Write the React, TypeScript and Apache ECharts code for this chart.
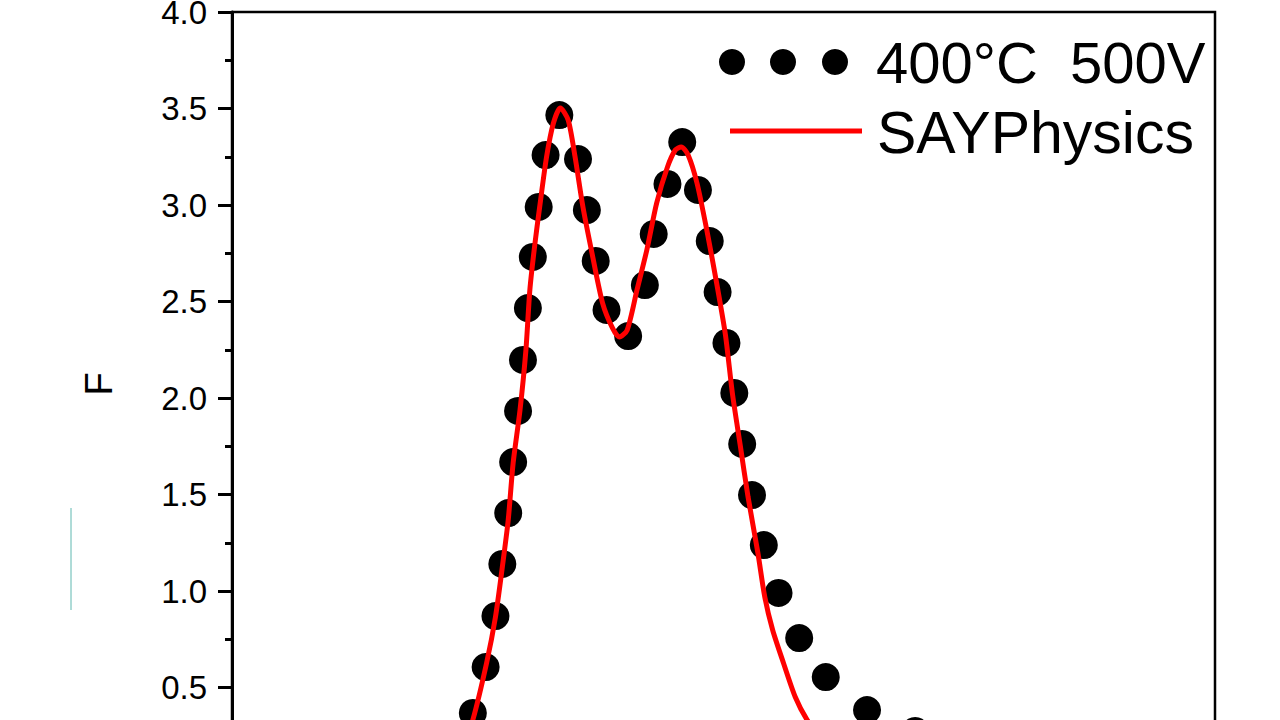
import { useEffect, useRef } from "react";
import * as echarts from "echarts";

// measured points (black dots)
const measuredX = [
  2.45, 2.58, 2.68, 2.75, 2.81, 2.86, 2.91, 2.96, 3.01, 3.06, 3.12, 3.19,
  3.33, 3.52, 3.61, 3.7, 3.81, 4.03, 4.2, 4.29, 4.43, 4.58, 4.74, 4.86,
  4.94, 5.03, 5.11, 5.19, 5.29, 5.41, 5.56, 5.77, 6.04, 6.46, 6.95, 7.48,
];
const measuredF = [
  0.368, 0.606, 0.87, 1.14, 1.404, 1.668, 1.933, 2.197, 2.466, 2.731, 2.99,
  3.259, 3.466, 3.238, 2.974, 2.71, 2.456, 2.321, 2.585, 2.85, 3.109, 3.326,
  3.078, 2.813, 2.549, 2.285, 2.026, 1.762, 1.497, 1.238, 0.99, 0.756, 0.554,
  0.383, 0.275, 0.255,
];

// fitted curve (red line)
const fitX = [
  2.34, 2.45, 2.59, 2.68, 2.75, 2.81, 2.86, 2.93, 2.99, 3.03, 3.08, 3.13,
  3.2, 3.27, 3.34, 3.42, 3.49, 3.57, 3.67, 3.77, 3.87, 3.94, 4.02, 4.12,
  4.22, 4.32, 4.43, 4.51, 4.57, 4.64, 4.73, 4.83, 4.93, 5.02, 5.09, 5.17,
  5.25, 5.35, 5.42, 5.5, 5.61, 5.73, 5.85, 6.03,
];
const fitF = [
  0.176, 0.332, 0.627, 0.865, 1.124, 1.368, 1.663, 1.938, 2.249, 2.56, 2.793,
  2.99, 3.249, 3.425, 3.503, 3.44, 3.249, 2.99, 2.731, 2.492, 2.363, 2.316,
  2.352, 2.56, 2.767, 3.01, 3.197, 3.285, 3.301, 3.259, 3.114, 2.87, 2.596,
  2.326, 2.026, 1.756, 1.487, 1.197, 0.969, 0.798, 0.627, 0.451, 0.332,
  0.202,
];

const legendLabels = ["400°C\u00a0 500V", "SAYPhysics"];
const yAxisName = "F";

const FONT = "'Liberation Sans', Arial, sans-serif";

export default function App() {
  const chartRef = useRef<HTMLDivElement>(null);

  useEffect(() => {
    if (!chartRef.current) return;
    const chart = echarts.init(chartRef.current, undefined, { renderer: "svg" });

    chart.setOption({
      animation: false,
      backgroundColor: "#fff",
      grid: {
        left: 232,
        right: 65,
        top: 12,
        bottom: 16,
        outerBoundsMode: "none",
        containLabel: false,
        show: true,
        borderColor: "#000",
        borderWidth: 2.5,
      },
      xAxis: {
        type: "value",
        min: 0,
        max: 10,
        interval: 1,
        axisLine: { lineStyle: { color: "#000", width: 3 } },
        axisTick: { length: 14, lineStyle: { color: "#000", width: 3 } },
        axisLabel: { show: false },
        splitLine: { show: false },
      },
      yAxis: {
        type: "value",
        min: 0,
        max: 4,
        interval: 0.5,
        axisLine: { show: true, lineStyle: { color: "#000", width: 3 } },
        axisTick: { show: true, length: 14, lineStyle: { color: "#000", width: 3 } },
        minorTick: {
          show: true,
          splitNumber: 2,
          length: 7,
          lineStyle: { color: "#000", width: 3 },
        },
        axisLabel: {
          color: "#000",
          fontSize: 33,
          fontFamily: FONT,
          margin: 25,
          formatter: (v: number) => (v < 0.25 ? "" : v.toFixed(1)),
        },
        splitLine: { show: false },
      },
      series: [
        {
          name: legendLabels[0],
          type: "scatter",
          data: measuredX.map((x, i) => [x, measuredF[i]]),
          symbol: "circle",
          symbolSize: 28,
          itemStyle: { color: "#000", opacity: 1 },
        },
        {
          name: legendLabels[1],
          type: "line",
          data: fitX.map((x, i) => [x, fitF[i]]),
          smooth: 0.25,
          showSymbol: false,
          lineStyle: { color: "#ff0000", width: 5 },
        },
      ],
      graphic: [
        {
          type: "text",
          x: 99,
          y: 384,
          rotation: Math.PI / 2,
          style: {
            text: yAxisName,
            fill: "#000",
            font: `38px ${FONT}`,
            align: "center",
            verticalAlign: "middle",
          },
        },
        {
          type: "line",
          shape: { x1: 71, y1: 508, x2: 71, y2: 610 },
          style: { stroke: "#5fb8b0", lineWidth: 1 },
        },
        ...[732, 783, 835].map((cx) => ({
          type: "circle",
          shape: { cx, cy: 62, r: 13 },
          style: { fill: "#000" },
        })),
        {
          type: "text",
          x: 876,
          y: 62,
          style: {
            text: legendLabels[0],
            fill: "#000",
            font: `58px ${FONT}`,
            verticalAlign: "middle",
          },
        },
        {
          type: "line",
          shape: { x1: 730, y1: 131, x2: 862, y2: 131 },
          style: { stroke: "#ff0000", lineWidth: 5 },
        },
        {
          type: "text",
          x: 877,
          y: 133,
          style: {
            text: legendLabels[1],
            fill: "#000",
            font: `59px ${FONT}`,
            verticalAlign: "middle",
          },
        },
      ],
    });

    return () => chart.dispose();
  }, []);

  return (
    <div
      ref={chartRef}
      style={{
        position: "fixed",
        left: 0,
        top: 0,
        width: 1280,
        height: 800,
        background: "#fff",
      }}
    />
  );
}
